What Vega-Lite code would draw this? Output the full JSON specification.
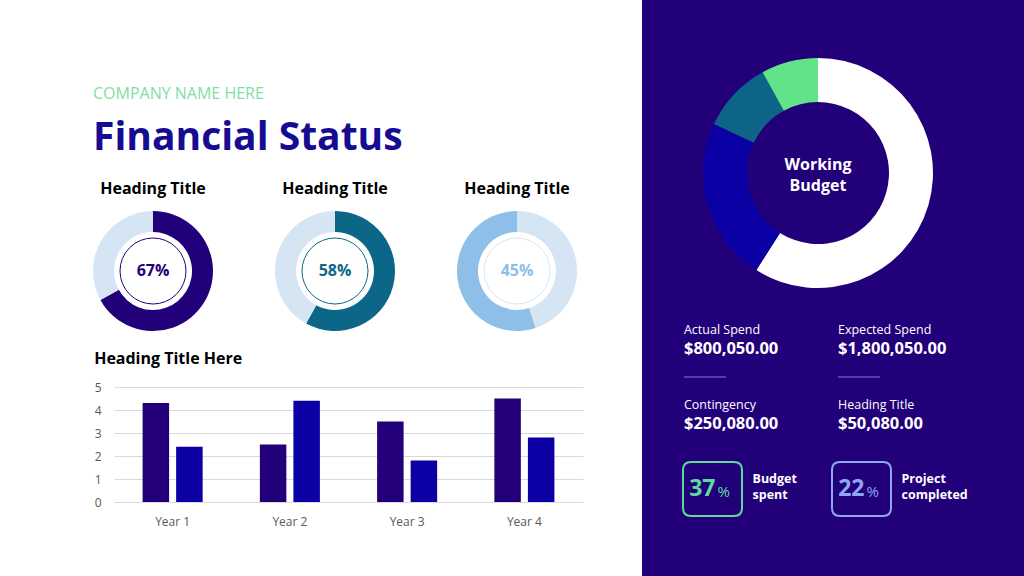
{
  "$schema": "https://vega.github.io/schema/vega-lite/v6.json",
  "background": "#ffffff",
  "padding": {"left": 93, "top": 0, "right": 0, "bottom": 0},
  "spacing": 59,
  "resolve": {"scale": {"color": "independent", "theta": "independent"}},
  "config": {
    "view": {"stroke": null},
    "font": "Open Sans",
    "title": {"font": "Open Sans", "subtitleFont": "Open Sans"},
    "axis": {"labelFont": "Open Sans"},
    "text": {"font": "Open Sans"}
  },
  "hconcat": [
    {
      "spacing": 23,
      "resolve": {"scale": {"color": "independent", "theta": "independent"}},
      "vconcat": [
        {
          "width": 300,
          "height": 82,
          "title": {
            "text": "COMPANY NAME HERE",
            "subtitle": "Financial Status",
            "orient": "bottom",
            "anchor": "start",
            "offset": 4,
            "fontSize": 16,
            "fontWeight": "normal",
            "color": "#7fdfa3",
            "subtitleFontSize": 39,
            "subtitleFontWeight": "bold",
            "subtitleColor": "#160c93",
            "subtitlePadding": 17
          },
          "data": {"values": [{"note": ""}]},
          "mark": {"type": "text"},
          "encoding": {"text": {"field": "note"}}
        },
        {
          "spacing": 20,
          "resolve": {"scale": {"color": "independent", "theta": "independent"}},
          "vconcat": [
            {
              "spacing": 62,
              "resolve": {"scale": {"color": "independent", "theta": "independent"}},
              "hconcat": [
                {
                  "width": 120,
                  "height": 120,
                  "title": {"text": "Heading Title", "fontSize": 16, "fontWeight": "bold", "color": "#000000", "offset": 14},
                  "data": {"values": [{"part": "complete", "share": 0.67}, {"part": "remaining", "share": 0.33}]},
                  "layer": [
                    {
                      "mark": {"type": "arc", "outerRadius": 60, "innerRadius": 39},
                      "encoding": {
                        "theta": {"field": "share", "type": "quantitative"},
                        "color": {"field": "part", "type": "nominal", "scale": {"domain": ["complete", "remaining"], "range": ["#22007a", "#d5e5f4"]}, "legend": null},
                        "order": {"field": "part", "sort": "ascending"}
                      }
                    },
                    {
                      "transform": [{"filter": "datum.part === 'complete'"}],
                      "mark": {"type": "point", "shape": "circle", "size": 4356, "filled": false, "stroke": "#22007a", "strokeWidth": 1, "opacity": 1},
                      "encoding": {}
                    },
                    {
                      "transform": [{"filter": "datum.part === 'complete'"}],
                      "mark": {"type": "text", "fontSize": 16, "fontWeight": "bold", "color": "#22007a"},
                      "encoding": {"text": {"field": "share", "type": "quantitative", "format": ".0%"}}
                    }
                  ]
                },
                {
                  "width": 120,
                  "height": 120,
                  "title": {"text": "Heading Title", "fontSize": 16, "fontWeight": "bold", "color": "#000000", "offset": 14},
                  "data": {"values": [{"part": "complete", "share": 0.58}, {"part": "remaining", "share": 0.42}]},
                  "layer": [
                    {
                      "mark": {"type": "arc", "outerRadius": 60, "innerRadius": 39},
                      "encoding": {
                        "theta": {"field": "share", "type": "quantitative"},
                        "color": {"field": "part", "type": "nominal", "scale": {"domain": ["complete", "remaining"], "range": ["#0c6687", "#d5e5f4"]}, "legend": null},
                        "order": {"field": "part", "sort": "ascending"}
                      }
                    },
                    {
                      "transform": [{"filter": "datum.part === 'complete'"}],
                      "mark": {"type": "point", "shape": "circle", "size": 4356, "filled": false, "stroke": "#0c6687", "strokeWidth": 1, "opacity": 1},
                      "encoding": {}
                    },
                    {
                      "transform": [{"filter": "datum.part === 'complete'"}],
                      "mark": {"type": "text", "fontSize": 16, "fontWeight": "bold", "color": "#0c6687"},
                      "encoding": {"text": {"field": "share", "type": "quantitative", "format": ".0%"}}
                    }
                  ]
                },
                {
                  "width": 120,
                  "height": 120,
                  "title": {"text": "Heading Title", "fontSize": 16, "fontWeight": "bold", "color": "#000000", "offset": 14},
                  "data": {"values": [{"part": "complete", "share": 0.45}, {"part": "remaining", "share": 0.55}]},
                  "layer": [
                    {
                      "mark": {"type": "arc", "outerRadius": 60, "innerRadius": 39},
                      "encoding": {
                        "theta": {"field": "share", "type": "quantitative"},
                        "color": {"field": "part", "type": "nominal", "scale": {"domain": ["complete", "remaining"], "range": ["#d5e5f4", "#8dbfe9"]}, "legend": null},
                        "order": {"field": "part", "sort": "ascending"}
                      }
                    },
                    {
                      "transform": [{"filter": "datum.part === 'complete'"}],
                      "mark": {"type": "point", "shape": "circle", "size": 4356, "filled": false, "stroke": "#d5e5f4", "strokeWidth": 1, "opacity": 1},
                      "encoding": {}
                    },
                    {
                      "transform": [{"filter": "datum.part === 'complete'"}],
                      "mark": {"type": "text", "fontSize": 16, "fontWeight": "bold", "color": "#8dbfe9"},
                      "encoding": {"text": {"field": "share", "type": "quantitative", "format": ".0%"}}
                    }
                  ]
                }
              ]
            },
            {
              "spacing": 0,
              "hconcat": [
                {
                  "width": 1,
                  "height": 10,
                  "data": {"values": [{"note": ""}]},
                  "mark": {"type": "text"},
                  "encoding": {"text": {"field": "note"}}
                },
                {
                  "width": 469,
                  "height": 115,
                  "title": {"text": "Heading Title Here", "anchor": "start", "fontSize": 16, "fontWeight": "bold", "color": "#000000", "offset": 14},
                  "data": {
                    "values": [
                      {"year": "Year 1", "series": "Series 1", "value": 4.3},
                      {"year": "Year 1", "series": "Series 2", "value": 2.4},
                      {"year": "Year 2", "series": "Series 1", "value": 2.5},
                      {"year": "Year 2", "series": "Series 2", "value": 4.4},
                      {"year": "Year 3", "series": "Series 1", "value": 3.5},
                      {"year": "Year 3", "series": "Series 2", "value": 1.8},
                      {"year": "Year 4", "series": "Series 1", "value": 4.5},
                      {"year": "Year 4", "series": "Series 2", "value": 2.8}
                    ]
                  },
                  "mark": {"type": "bar"},
                  "encoding": {
                    "x": {
                      "field": "year", "type": "nominal",
                      "scale": {"paddingInner": 0.488, "paddingOuter": 0.244},
                      "axis": {"title": null, "labelAngle": 0, "domain": false, "ticks": false, "labelPadding": 14, "labelFontSize": 12, "labelColor": "#595959"}
                    },
                    "xOffset": {"field": "series", "type": "nominal", "scale": {"paddingInner": 0.21, "paddingOuter": 0}},
                    "y": {
                      "field": "value", "type": "quantitative",
                      "scale": {"domain": [0, 5]},
                      "axis": {"title": null, "tickCount": 5, "domain": false, "ticks": false, "gridColor": "#d9d9d9", "labelPadding": 13, "labelFontSize": 12, "labelColor": "#595959"}
                    },
                    "color": {"field": "series", "type": "nominal", "scale": {"domain": ["Series 1", "Series 2"], "range": ["#23007a", "#0a00a3"]}, "legend": null}
                  }
                }
              ]
            }
          ]
        }
      ]
    },
    {
      "spacing": 0,
      "bounds": "flush",
      "resolve": {"scale": {"color": "independent", "theta": "independent"}},
      "vconcat": [
        {
          "width": 382,
          "height": 310,
          "view": {"fill": "#22007a", "stroke": null},
          "layer": [
            {
              "data": {
                "values": [
                  {"segment": "Remaining", "share": 59},
                  {"segment": "Core spend", "share": 23},
                  {"segment": "Contingency", "share": 10},
                  {"segment": "Other", "share": 8}
                ]
              },
              "mark": {"type": "arc", "outerRadius": 115, "innerRadius": 71, "xOffset": -15, "yOffset": 18},
              "encoding": {
                "theta": {"field": "share", "type": "quantitative"},
                "order": {"field": "share", "sort": "descending"},
                "color": {
                  "field": "segment", "type": "nominal",
                  "scale": {"domain": ["Remaining", "Core spend", "Contingency", "Other"], "range": ["#ffffff", "#0b00a3", "#0d6486", "#62e389"]},
                  "legend": null
                }
              }
            },
            {
              "data": {"values": [{"caption": "Working\nBudget"}]},
              "mark": {"type": "text", "lineBreak": "\n", "lineHeight": 21, "fontSize": 16, "fontWeight": "bold", "color": "#ffffff", "dx": -15, "dy": 10},
              "encoding": {"text": {"field": "caption"}}
            }
          ]
        },
        {
          "width": 382,
          "height": 266,
          "view": {"fill": "#22007a", "stroke": null},
          "resolve": {"scale": {"x": "independent"}},
          "layer": [
            {
              "data": {
                "values": [
                  {"column": 1, "row": 1, "label": "Actual Spend", "amount": 800050},
                  {"column": 2, "row": 1, "label": "Expected Spend", "amount": 1800050},
                  {"column": 1, "row": 2, "label": "Contingency", "amount": 250080},
                  {"column": 2, "row": 2, "label": "Heading Title", "amount": 50080}
                ]
              },
              "encoding": {
                "x": {"field": "column", "type": "ordinal", "scale": {"type": "point", "padding": 0.74, "align": 0.184}, "axis": null},
                "y": {"field": "row", "type": "ordinal", "scale": {"type": "point", "domain": [1, 2, 3], "padding": 0.785, "align": 0.2564}, "axis": null}
              },
              "layer": [
                {
                  "mark": {"type": "text", "align": "left", "baseline": "middle", "dy": -10, "fontSize": 12.5, "color": "#ffffff"},
                  "encoding": {"text": {"field": "label"}}
                },
                {
                  "mark": {"type": "text", "align": "left", "baseline": "middle", "dy": 9, "fontSize": 16.5, "fontWeight": "bold", "color": "#ffffff"},
                  "encoding": {"text": {"field": "amount", "type": "quantitative", "format": "$,.2f"}}
                },
                {
                  "transform": [{"filter": "datum.row === 1"}],
                  "mark": {"type": "rule", "yOffset": 37, "x2Offset": 42, "color": "#7f7ce8", "strokeWidth": 1},
                  "encoding": {"x2": {"field": "column"}}
                }
              ]
            },
            {
              "data": {
                "values": [
                  {"metric": "Budget spent", "row": 3, "percent": 37},
                  {"metric": "Project completed", "row": 3, "percent": 22}
                ]
              },
              "encoding": {
                "x": {"field": "metric", "type": "nominal", "scale": {"type": "point", "padding": 0.782, "align": 0.3026}, "axis": null},
                "y": {"field": "row", "type": "ordinal", "axis": null},
                "color": {"field": "metric", "type": "nominal", "scale": {"domain": ["Budget spent", "Project completed"], "range": ["#5fd99e", "#8ea7f3"]}, "legend": null}
              },
              "layer": [
                {
                  "mark": {"type": "point", "shape": "M -0.73,-0.915 L 0.73,-0.915 Q 1,-0.915 1,-0.645 L 1,0.645 Q 1,0.915 0.73,0.915 L -0.73,0.915 Q -1,0.915 -1,0.645 L -1,-0.645 Q -1,-0.915 -0.73,-0.915 Z", "size": 3481, "filled": false, "strokeWidth": 2, "opacity": 1}
                },
                {
                  "mark": {"type": "text", "align": "right", "baseline": "middle", "dx": 3, "fontSize": 23, "fontWeight": "bold"},
                  "encoding": {"text": {"field": "percent", "type": "quantitative", "format": ".0f"}}
                },
                {
                  "mark": {"type": "text", "text": "%", "align": "left", "baseline": "middle", "dx": 5, "dy": 3, "fontSize": 15}
                },
                {
                  "mark": {"type": "text", "align": "left", "baseline": "middle", "lineBreak": " ", "lineHeight": 16, "dx": 40, "dy": -10.5, "fontSize": 12.5, "fontWeight": "bold"},
                  "encoding": {"text": {"field": "metric"}, "color": {"value": "#ffffff"}}
                }
              ]
            }
          ]
        }
      ]
    }
  ]
}
